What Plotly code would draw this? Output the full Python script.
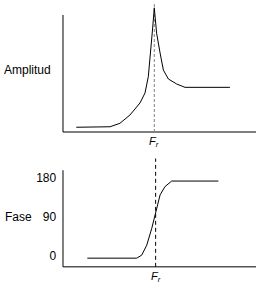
import plotly.graph_objects as go

W, H = 266, 289

# ---- data ----
amp_freq = [0.69, 2.44, 2.95, 3.47, 3.99, 4.25, 4.42, 4.54, 4.65, 4.73, 4.85, 5.03, 5.20, 5.46, 5.89, 6.32, 8.65]
amp_vals = [0.037, 0.041, 0.068, 0.133, 0.227, 0.305, 0.432, 0.617, 0.82, 0.97, 0.773, 0.617, 0.484, 0.414, 0.375, 0.349, 0.349]
fr_top = 4.73

phase_freq = [1.26, 3.82, 4.08, 4.34, 4.60, 4.80, 5.03, 5.28, 5.63, 8.05]
phase_vals = [-5, -5, 2, 25, 64, 102, 141, 160, 173, 173]
fr_bottom = 4.80

phase_ticks = [0, 90, 180]
phase_ticktext = ["0", "90", "180"]

# axis extents (data units)
x_axis_end = 10.0
amp_axis_top = 0.914
amp_dash_top = 1.016
ph_axis_bottom = -25
ph_axis_top = 198
ph_dash_top = 225

FONT = "Liberation Sans, Arial, sans-serif"

def px_x(p):
    return p / W

def px_y(p):
    return 1 - p / H

fig = go.Figure()

# top panel
fig.add_trace(go.Scatter(x=[0, 0, x_axis_end], y=[amp_axis_top, 0, 0], mode="lines",
                         line=dict(color="black", width=1), xaxis="x", yaxis="y", hoverinfo="skip"))
fig.add_trace(go.Scatter(x=[fr_top, fr_top], y=[0, amp_dash_top], mode="lines",
                         line=dict(color="#808080", width=1, dash="3px,2px"), xaxis="x", yaxis="y"))
fig.add_trace(go.Scatter(x=amp_freq, y=amp_vals, mode="lines",
                         line=dict(color="black", width=1), xaxis="x", yaxis="y"))

# bottom panel
fig.add_trace(go.Scatter(x=[0, 0, x_axis_end], y=[ph_axis_top, ph_axis_bottom, ph_axis_bottom], mode="lines",
                         line=dict(color="black", width=1), xaxis="x2", yaxis="y2", hoverinfo="skip"))
fig.add_trace(go.Scatter(x=[fr_bottom, fr_bottom], y=[ph_axis_bottom, ph_dash_top], mode="lines",
                         line=dict(color="black", width=1, dash="4px,3px"), xaxis="x2", yaxis="y2"))
fig.add_trace(go.Scatter(x=phase_freq, y=phase_vals, mode="lines",
                         line=dict(color="black", width=1), xaxis="x2", yaxis="y2"))

xr = [-0.3, 10.3]
xdom = [px_x(57.2), px_x(261.8)]
axis_common = dict(showgrid=False, zeroline=False, showline=False, ticks="")

fig.update_layout(
    width=W, height=H,
    margin=dict(l=0, r=0, t=0, b=0),
    paper_bgcolor="white", plot_bgcolor="white",
    showlegend=False,
    font=dict(family=FONT, size=12, color="black"),
    xaxis=dict(domain=xdom, range=xr, showticklabels=False, anchor="y", **axis_common),
    yaxis=dict(domain=[px_y(138.4), px_y(0.16)], range=[-0.05, 1.03], showticklabels=False,
               anchor="x", **axis_common),
    xaxis2=dict(domain=xdom, range=xr, showticklabels=False, anchor="y2", **axis_common),
    yaxis2=dict(domain=[px_y(269.0), px_y(147.7)], range=[-30, 250], anchor="x2",
                tickvals=phase_ticks, ticktext=phase_ticktext, showticklabels=True,
                tickfont=dict(family=FONT, size=12, color="black"), **axis_common),
)

fig.add_annotation(text="Amplitud", xref="paper", yref="paper", x=px_x(2), y=px_y(70),
                   xanchor="left", yanchor="middle", showarrow=False,
                   font=dict(family=FONT, size=12, color="black"))
fig.add_annotation(text="Fase", xref="paper", yref="y2", x=px_x(34), y=90,
                   xanchor="right", yanchor="middle", showarrow=False,
                   font=dict(family=FONT, size=12, color="black"))
fig.add_annotation(text="<i>F<sub>r</sub></i>", xref="x", yref="paper", x=fr_top, y=px_y(133),
                   xanchor="center", yanchor="top", showarrow=False,
                   font=dict(family=FONT, size=11, color="black"))
fig.add_annotation(text="<i>F<sub>r</sub></i>", xref="x2", yref="paper", x=fr_bottom, y=px_y(268),
                   xanchor="center", yanchor="top", showarrow=False,
                   font=dict(family=FONT, size=11, color="black"))

fig.write_html("out.html")
